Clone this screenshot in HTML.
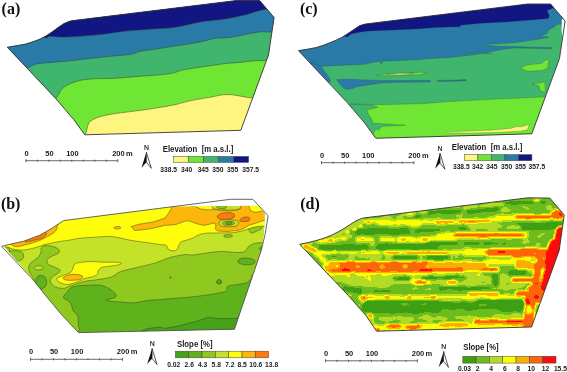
<!DOCTYPE html>
<html><head><meta charset="utf-8"><title>Elevation and slope maps</title>
<style>html,body{margin:0;padding:0;background:#fff;}svg{display:block;}</style></head>
<body>
<svg width="567" height="372" viewBox="0 0 567 372">
<rect width="567" height="372" fill="#fff"/>
<g transform="translate(0,0)">
<clipPath id="clipA"><path d="M7.3,47.2 L16,45.8 L25,44.2 L33,41.8 L40,39.1 L46,36 L52,32 L58,27.6 L64,23.6 L69.4,21.3 L73,20.6 L236.7,0.5 L259.6,0.5 L274.1,17.5 L268.5,55 L240.8,130.3 L84.8,134.8 L73.7,119.5 L55.7,98.5Z"/></clipPath>
<g clip-path="url(#clipA)">
<path d="M7.3,47.2 L16,45.8 L25,44.2 L33,41.8 L40,39.1 L46,36 L52,32 L58,27.6 L64,23.6 L69.4,21.3 L73,20.6 L236.7,0.5 L259.6,0.5 L274.1,17.5 L268.5,55 L240.8,130.3 L84.8,134.8 L73.7,119.5 L55.7,98.5Z" fill="#fdf580"/>
<path d="M80,140C80.9,139 84,136.8 85.5,134C87,131.2 87.3,125.9 88.7,123.4C90.1,120.9 91.8,120.2 94,119C96.2,117.8 98.9,117.1 101.6,116.3C104.3,115.5 106.1,115.1 110,114.4C113.9,113.7 118.3,113.2 125,112.3C131.7,111.4 141.7,110.3 150,109C158.3,107.7 168.3,106.1 175,104.7C181.7,103.3 184.2,102 190,100.8C195.8,99.6 203.7,98.3 210,97.3C216.3,96.2 221,94.4 228,94.5C235,94.6 244.2,97.2 252,98C259.8,98.8 271.2,98.8 275,99L600,99 L600,-20 L-50,-20 L-50,140Z" fill="#6fe633"/>
<path d="M45,100C46.8,99.7 53,100.1 55.7,98.4C58.4,96.7 59.3,92 61.3,89.7C63.3,87.5 65.2,86.2 67.6,84.9C70,83.6 72.9,82.6 75.6,81.7C78.2,80.8 80.9,80.2 83.5,79.8C86.1,79.3 88.8,79.2 91.4,79C94.1,78.8 96.3,78.7 99.4,78.6C102.5,78.5 106.6,78.6 110,78.5C113.4,78.4 114.8,78.3 120,77.9C125.2,77.5 134.3,76.7 141,76.2C147.7,75.7 154.7,75.3 160,74.8C165.3,74.3 169.1,73.8 173,73C176.9,72.2 178.2,70.9 183.5,69.8C188.8,68.7 197.6,67.6 204.7,66.6C211.8,65.5 219.9,64.2 225.8,63.5C231.7,62.8 236,62.8 240,62.4C244,62 246,61.5 250,61.2C254,60.9 258.2,60.6 264,60.4C269.8,60.2 281.5,60.1 285,60L600,60 L600,-20 L-50,-20 L-50,100Z" fill="#3fb56e"/>
<path d="M15,70C17.1,69.6 24.1,68.8 27.6,67.8C31.1,66.8 31.9,64.9 35.9,64C39.9,63.1 46.4,62.9 51.7,62.4C57,61.9 62.3,61.6 67.6,61.1C72.9,60.6 78.2,59.8 83.5,59.2C88.8,58.6 95,58.1 99.4,57.6C103.8,57.1 104.9,56.8 110,56.3C115.1,55.8 125,55.2 130,54.4C135,53.6 136.7,52.1 140,51.4C143.3,50.7 144.2,50.9 150,50C155.8,49.1 166.7,47.4 175,46.1C183.3,44.8 193.3,43.3 200,42C206.7,40.7 210,39.1 215,38.4C220,37.6 224.2,38.3 230,37.5C235.8,36.7 245,34.5 250,33.6C255,32.7 256.5,32.2 260,31.9C263.5,31.6 266,32.1 271,32C276,31.9 286.8,31.2 290,31L600,31 L600,-20 L-50,-20 L-50,70Z" fill="#2a7aa8"/>
<path d="M20,34C24,34.6 39,37.2 44,37.6C49,38 46.8,36.3 50,36.2C53.2,36.1 58,37 63,37C68,37 73.8,36.6 80,36.2C86.2,35.8 93.3,35.2 100,34.5C106.7,33.8 114.2,32.4 120,31.7C125.8,31 130,30.7 135,30.3C140,29.9 143.3,29.7 150,29.2C156.7,28.7 166.7,28.5 175,27.3C183.3,26.1 191.7,23.4 200,22C208.3,20.6 218.3,20 225,19C231.7,18 235.8,16.9 240,16C244.2,15.1 247.5,14.2 250,13.5C252.5,12.8 252.4,12.5 255,11.8C257.6,11.1 260.3,10.2 265.3,9.2C270.3,8.2 281.7,6.5 285,6L600,6 L600,-20 L-50,-20 L-50,34Z" fill="#121682"/>
<path d="M80,140C80.9,139 84,136.8 85.5,134C87,131.2 87.3,125.9 88.7,123.4C90.1,120.9 91.8,120.2 94,119C96.2,117.8 98.9,117.1 101.6,116.3C104.3,115.5 106.1,115.1 110,114.4C113.9,113.7 118.3,113.2 125,112.3C131.7,111.4 141.7,110.3 150,109C158.3,107.7 168.3,106.1 175,104.7C181.7,103.3 184.2,102 190,100.8C195.8,99.6 203.7,98.3 210,97.3C216.3,96.2 221,94.4 228,94.5C235,94.6 244.2,97.2 252,98C259.8,98.8 271.2,98.8 275,99" fill="none" stroke="#3a3a2a" stroke-width="0.6" stroke-opacity="0.8"/>
<path d="M45,100C46.8,99.7 53,100.1 55.7,98.4C58.4,96.7 59.3,92 61.3,89.7C63.3,87.5 65.2,86.2 67.6,84.9C70,83.6 72.9,82.6 75.6,81.7C78.2,80.8 80.9,80.2 83.5,79.8C86.1,79.3 88.8,79.2 91.4,79C94.1,78.8 96.3,78.7 99.4,78.6C102.5,78.5 106.6,78.6 110,78.5C113.4,78.4 114.8,78.3 120,77.9C125.2,77.5 134.3,76.7 141,76.2C147.7,75.7 154.7,75.3 160,74.8C165.3,74.3 169.1,73.8 173,73C176.9,72.2 178.2,70.9 183.5,69.8C188.8,68.7 197.6,67.6 204.7,66.6C211.8,65.5 219.9,64.2 225.8,63.5C231.7,62.8 236,62.8 240,62.4C244,62 246,61.5 250,61.2C254,60.9 258.2,60.6 264,60.4C269.8,60.2 281.5,60.1 285,60" fill="none" stroke="#3a3a2a" stroke-width="0.6" stroke-opacity="0.8"/>
<path d="M15,70C17.1,69.6 24.1,68.8 27.6,67.8C31.1,66.8 31.9,64.9 35.9,64C39.9,63.1 46.4,62.9 51.7,62.4C57,61.9 62.3,61.6 67.6,61.1C72.9,60.6 78.2,59.8 83.5,59.2C88.8,58.6 95,58.1 99.4,57.6C103.8,57.1 104.9,56.8 110,56.3C115.1,55.8 125,55.2 130,54.4C135,53.6 136.7,52.1 140,51.4C143.3,50.7 144.2,50.9 150,50C155.8,49.1 166.7,47.4 175,46.1C183.3,44.8 193.3,43.3 200,42C206.7,40.7 210,39.1 215,38.4C220,37.6 224.2,38.3 230,37.5C235.8,36.7 245,34.5 250,33.6C255,32.7 256.5,32.2 260,31.9C263.5,31.6 266,32.1 271,32C276,31.9 286.8,31.2 290,31" fill="none" stroke="#3a3a2a" stroke-width="0.6" stroke-opacity="0.8"/>
<path d="M20,34C24,34.6 39,37.2 44,37.6C49,38 46.8,36.3 50,36.2C53.2,36.1 58,37 63,37C68,37 73.8,36.6 80,36.2C86.2,35.8 93.3,35.2 100,34.5C106.7,33.8 114.2,32.4 120,31.7C125.8,31 130,30.7 135,30.3C140,29.9 143.3,29.7 150,29.2C156.7,28.7 166.7,28.5 175,27.3C183.3,26.1 191.7,23.4 200,22C208.3,20.6 218.3,20 225,19C231.7,18 235.8,16.9 240,16C244.2,15.1 247.5,14.2 250,13.5C252.5,12.8 252.4,12.5 255,11.8C257.6,11.1 260.3,10.2 265.3,9.2C270.3,8.2 281.7,6.5 285,6" fill="none" stroke="#3a3a2a" stroke-width="0.6" stroke-opacity="0.8"/>
</g>
<path d="M7.3,47.2 L16,45.8 L25,44.2 L33,41.8 L40,39.1 L46,36 L52,32 L58,27.6 L64,23.6 L69.4,21.3 L73,20.6 L236.7,0.5 L259.6,0.5 L274.1,17.5 L268.5,55 L240.8,130.3 L84.8,134.8 L73.7,119.5 L55.7,98.5Z" fill="none" stroke="#333" stroke-width="0.9"/>
</g>
<text x="1.6" y="13.6" font-family="Liberation Serif, Times New Roman, serif" font-weight="bold" font-size="16" fill="#111">(a)</text>
<path d="M25.9,160.7 H117.8" stroke="#444" stroke-width="0.8"/>
<path d="M25.9,159.1 V162.3" stroke="#444" stroke-width="0.8"/>
<path d="M37.4,159.7 V161.7" stroke="#444" stroke-width="0.8"/>
<path d="M48.9,159.7 V161.7" stroke="#444" stroke-width="0.8"/>
<path d="M60.4,159.7 V161.7" stroke="#444" stroke-width="0.8"/>
<path d="M71.8,159.7 V161.7" stroke="#444" stroke-width="0.8"/>
<path d="M83.3,159.7 V161.7" stroke="#444" stroke-width="0.8"/>
<path d="M94.8,159.7 V161.7" stroke="#444" stroke-width="0.8"/>
<path d="M106.3,159.7 V161.7" stroke="#444" stroke-width="0.8"/>
<path d="M117.8,159.1 V162.3" stroke="#444" stroke-width="0.8"/>
<text transform="translate(26.50,155.90) scale(1,1.050)" font-family="Liberation Sans, Arial, sans-serif" font-weight="bold" font-size="7.5" fill="#1a1a1a" text-anchor="middle">0</text>
<text transform="translate(49.48,155.90) scale(1,1.050)" font-family="Liberation Sans, Arial, sans-serif" font-weight="bold" font-size="7.5" fill="#1a1a1a" text-anchor="middle">50</text>
<text transform="translate(72.45,155.90) scale(1,1.050)" font-family="Liberation Sans, Arial, sans-serif" font-weight="bold" font-size="7.5" fill="#1a1a1a" text-anchor="middle">100</text>
<text transform="translate(118.40,155.90) scale(1,1.050)" font-family="Liberation Sans, Arial, sans-serif" font-weight="bold" font-size="7.5" fill="#1a1a1a" text-anchor="middle">200</text>
<text transform="translate(126.00,155.90) scale(1,1.050)" font-family="Liberation Sans, Arial, sans-serif" font-weight="bold" font-size="7.5" fill="#1a1a1a">m</text>
<text x="146.5" y="149.9" font-family="Liberation Sans, Arial, sans-serif" font-size="6.9" text-anchor="middle" fill="#111" stroke="#111" stroke-width="0.15">N</text>
<path d="M146.4,152.3 L141.5,167.8 L146.4,162.2 Z" fill="#111"/>
<path d="M146.4,152.3 L151.3,168.3 L146.4,162.2 Z" fill="#fff" stroke="#111" stroke-width="0.7"/>
<text transform="translate(162.70,151.70) scale(1,1.130)" font-family="Liberation Sans, Arial, sans-serif" font-weight="bold" font-size="7.8" fill="#1a1a1a" xml:space="preserve">Elevation  [m a.s.l.]</text>
<rect x="173.4" y="156.4" width="15" height="6" fill="#fdf580" stroke="#444" stroke-width="0.5"/>
<rect x="188.4" y="156.4" width="15" height="6" fill="#6fe633" stroke="#444" stroke-width="0.5"/>
<rect x="203.5" y="156.4" width="15" height="6" fill="#3fb56e" stroke="#444" stroke-width="0.5"/>
<rect x="218.5" y="156.4" width="15" height="6" fill="#2a7aa8" stroke="#444" stroke-width="0.5"/>
<rect x="233.6" y="156.4" width="15" height="6" fill="#121682" stroke="#444" stroke-width="0.5"/>
<text transform="translate(168.60,171.80) scale(1,1.100)" font-family="Liberation Sans, Arial, sans-serif" font-weight="bold" font-size="6.7" fill="#1a1a1a" text-anchor="middle">338.5</text>
<text transform="translate(186.60,171.80) scale(1,1.100)" font-family="Liberation Sans, Arial, sans-serif" font-weight="bold" font-size="6.7" fill="#1a1a1a" text-anchor="middle">340</text>
<text transform="translate(203.20,171.80) scale(1,1.100)" font-family="Liberation Sans, Arial, sans-serif" font-weight="bold" font-size="6.7" fill="#1a1a1a" text-anchor="middle">345</text>
<text transform="translate(217.80,171.80) scale(1,1.100)" font-family="Liberation Sans, Arial, sans-serif" font-weight="bold" font-size="6.7" fill="#1a1a1a" text-anchor="middle">350</text>
<text transform="translate(232.60,171.80) scale(1,1.100)" font-family="Liberation Sans, Arial, sans-serif" font-weight="bold" font-size="6.7" fill="#1a1a1a" text-anchor="middle">355</text>
<text transform="translate(250.70,171.80) scale(1,1.100)" font-family="Liberation Sans, Arial, sans-serif" font-weight="bold" font-size="6.7" fill="#1a1a1a" text-anchor="middle">357.5</text>
<clipPath id="clipB"><path d="M4,246.3 L9.5,244.4 L23.8,241.2 L39.7,235.3 L52.4,228 L63.5,220.6 L172,206.8 L258.2,205.6 L264.8,213.6 L264.3,233.5 L261.3,250.3 L234.4,329.2 L78.4,332.6 L62.3,315.5 L46.1,296.1 L33.2,280Z"/></clipPath>
<g clip-path="url(#clipB)">
<path d="M4,246.3 L9.5,244.4 L23.8,241.2 L39.7,235.3 L52.4,228 L63.5,220.6 L172,206.8 L258.2,205.6 L264.8,213.6 L264.3,233.5 L261.3,250.3 L234.4,329.2 L78.4,332.6 L62.3,315.5 L46.1,296.1 L33.2,280Z" fill="#c4e227"/>
<path d="M275,242C273,225.8 266.6,242.3 263.2,242.6C259.8,242.8 256.8,242.9 254.4,243.5C252.1,244.1 251.2,244.7 249.1,246.2C247,247.7 246.7,251.4 242,252.3C237.3,253.2 227.1,251.3 220.9,251.5C214.7,251.7 209.7,252.6 205,253.2C200.3,253.8 195.9,254.8 192.6,255C189.3,255.2 188.8,254.2 185,254.6C181.2,255 174.6,256.2 169.7,257.6C164.8,259 160.8,261.3 155.5,262.9C150.2,264.5 143.8,265.8 137.9,267.3C132,268.8 124.7,270.1 120.3,271.7C115.9,273.3 115.7,275.6 111.5,277C107.3,278.4 99.4,279.3 95,280C90.6,280.7 89.2,280.4 85,281.4C80.8,282.4 73.6,284.8 70,286C66.4,287.2 65.8,288.3 63.4,288.4C60.9,288.5 57.4,287.9 55.3,286.8C53.1,285.7 51,283.5 50.5,281.9C50,280.3 51,278.4 52.1,277.1C53.2,275.8 55.5,275 56.9,273.9C58.2,272.8 60.5,271.7 60.2,270.6C59.9,269.5 57.3,268.5 55.3,267.4C53.3,266.3 49.4,265.5 48.1,264.2C46.8,262.9 46.6,260.8 47.3,259.4C48,258 50.4,257.1 52.1,256.1C53.8,255.2 56.5,254.6 57.7,253.7C58.9,252.8 59.8,251.6 59.4,250.5C59,249.4 57.3,248.1 55.3,247.3C53.3,246.5 49.6,245.6 47.3,245.6C45,245.6 42.7,246.1 41.6,247.3C40.5,248.5 41.5,251.2 40.8,252.9C40.1,254.6 39.2,256.1 37.6,257.7C36,259.3 32.6,261 31.1,262.6C29.6,264.2 29,265.8 28.7,267.4C28.4,269 28.8,270.7 29.5,272.3C30.2,273.9 31.6,275.2 32.7,277.1C33.8,279 34.6,281.6 36,283.5C37.4,285.4 39.6,286.5 40.8,288.4C42,290.3 42.1,292.9 43.2,294.8C44.3,296.7 45.3,297.1 47.3,300C49.3,302.9 52.5,308.3 55,312C57.5,315.7 59.5,317.3 62,322C64.5,326.7 34.5,337 70,340C105.5,343 240.8,356.3 275,340C309.2,323.7 277,258.2 275,242Z" fill="#8fc920" stroke="#3a3a20" stroke-width="0.55" stroke-opacity="0.85"/>
<path d="M10,251C11,250.5 14.1,250.6 16,250.8C17.9,251 20.2,251.2 21.5,252C22.8,252.8 23.5,254.2 23.6,255.5C23.7,256.8 23.3,258.6 22,259.5C20.7,260.4 17.8,261.4 16,261.2C14.2,260.9 12.5,259.2 11.5,258C10.5,256.8 10.1,255.2 9.8,254C9.6,252.8 9,251.5 10,251Z" fill="#8fc920" stroke="#3a3a20" stroke-width="0.55" stroke-opacity="0.85"/>
<path d="M4.6,246.5C5.3,246.1 7.2,246 8,246.5C8.8,247 9.5,248.5 9.6,249.5C9.7,250.5 9.1,251.9 8.5,252.3C7.9,252.7 6.5,252.6 5.8,252C5,251.4 4.2,249.9 4,249C3.8,248.1 3.9,246.9 4.6,246.5Z" fill="#8fc920" stroke="#3a3a20" stroke-width="0.55" stroke-opacity="0.85"/>
<path d="M34.4,267.5C34.8,266.9 36.6,265.9 38,265.8C39.4,265.7 41.7,266.2 42.6,266.6C43.5,267 43.8,267.8 43.4,268.3C43,268.8 41.3,269.6 40,269.8C38.7,270 36.4,269.9 35.5,269.5C34.6,269.1 34,268.1 34.4,267.5Z" fill="#c4e227" stroke="#3a3a20" stroke-width="0.55" stroke-opacity="0.85"/>
<path d="M36,281C35.9,279.2 36.7,277.4 37.5,276.5C38.3,275.6 39.8,275.2 41,275.3C42.2,275.4 44.1,276 45,277C45.9,278 46.5,279.9 46.6,281.5C46.7,283.1 46.3,285.4 45.5,286.5C44.7,287.6 43.2,288.3 42,288.4C40.8,288.5 39,288.2 38,287C37,285.8 36.1,282.8 36,281Z" fill="#5eb31c" stroke="#3a3a20" stroke-width="0.55" stroke-opacity="0.85"/>
<path d="M63.5,297.6C63.2,296.1 65.6,294.1 67.1,292.3C68.6,290.6 69.1,288.3 72.3,287.1C75.5,285.9 81.8,285.6 86.5,285.3C91.2,285 96.8,284.7 100.6,285.3C104.4,285.9 106.9,287.3 109.4,288.8C111.9,290.3 114.7,292.6 115.6,294.1C116.5,295.6 116.3,296.6 114.7,297.6C113.1,298.6 106.2,299.7 105.9,300.3C105.6,300.9 110.3,301.2 112.9,301.5C115.5,301.8 118.8,301.8 121.7,302C124.6,302.2 127.5,302.9 130.5,302.9C133.4,302.9 136.5,302.4 139.4,302C142.3,301.6 144.8,300.7 148.2,300.3C151.6,299.9 156.5,299.9 160,299.6C163.5,299.3 164.6,299.1 169.4,298.7C174.2,298.3 182.3,297.8 188.8,297.2C195.3,296.6 202,295.8 208.2,294.8C214.3,293.8 222.5,292.7 225.7,291.3C228.9,289.9 225.7,287.6 227.6,286.5C229.5,285.4 234.1,285.1 237.3,284.5C240.5,283.9 244.6,283.7 247,282.6C249.4,281.5 250.8,279 251.8,277.8C252.8,276.6 249.1,276.5 253,275.5C256.9,274.5 271.3,260.4 275,272C278.7,283.6 307.5,332.8 275,345C242.5,357.2 112.6,347.5 80,345C47.4,342.5 79.8,333.2 79.5,330C79.2,326.8 78.8,328.3 78.5,325.9C78.2,323.4 78.5,317.8 77.6,315.3C76.7,312.8 74.2,312.5 73.2,310.9C72.2,309.3 72.2,307.2 71.5,305.6C70.8,304 70.1,302.5 68.8,301.2C67.5,299.9 63.8,299.1 63.5,297.6Z" fill="#5eb31c" stroke="#3a3a20" stroke-width="0.55" stroke-opacity="0.85"/>
<path d="M237.6,261.2C237.8,260.4 239.4,259.1 241,258.6C242.6,258.1 245,258.1 247,258.2C249,258.3 251.6,258.7 253,259.3C254.4,259.9 255.4,261 255.2,261.8C255,262.6 253.5,263.8 252,264.3C250.5,264.8 248,264.9 246,264.8C244,264.7 241.4,264.2 240,263.6C238.6,263 237.4,262 237.6,261.2Z" fill="#5eb31c" stroke="#3a3a20" stroke-width="0.55" stroke-opacity="0.85"/>
<path d="M216.4,281.8C216.5,281.2 217.3,280.1 218,279.9C218.7,279.6 220.2,279.9 220.8,280.3C221.4,280.7 221.9,281.8 221.8,282.4C221.7,283 220.7,283.9 220,284.1C219.3,284.3 218,284 217.4,283.6C216.8,283.2 216.3,282.4 216.4,281.8Z" fill="#5eb31c" stroke="#3a3a20" stroke-width="0.55" stroke-opacity="0.85"/>
<path d="M217.2,281.2C217.3,280.6 218.2,279.7 218.8,279.6C219.4,279.5 220.3,280.1 220.6,280.6C220.9,281.1 220.8,282.4 220.4,282.8C220,283.2 218.7,283.2 218.2,282.9C217.7,282.6 217.1,281.8 217.2,281.2Z" fill="#5eb31c" stroke="#3a3a20" stroke-width="0.55" stroke-opacity="0.85"/>
<path d="M169.6,277.4C169.6,277.2 170.1,276.7 170.4,276.7C170.7,276.7 171.3,277.1 171.3,277.3C171.3,277.5 170.8,278.1 170.5,278.1C170.2,278.1 169.6,277.6 169.6,277.4Z" fill="#5eb31c" stroke="#3a3a20" stroke-width="0.55" stroke-opacity="0.85"/>
<path d="M259.5,248.5C259.4,247.8 260.9,246.6 261.5,246.5C262.1,246.4 262.9,247.2 263,248C263.1,248.8 262.6,250.9 262,251C261.4,251.1 259.6,249.2 259.5,248.5Z" fill="#5eb31c" stroke="#3a3a20" stroke-width="0.55" stroke-opacity="0.85"/>
<path d="M137.6,334C138.6,332.4 140.6,331.3 142.9,330.3C145.2,329.3 148.8,328.5 151.7,328C154.5,327.5 157.7,327.3 160,327.3C162.3,327.3 162.6,328.4 165.5,328.2C168.4,328 173.3,327.1 177.2,326.3C181.1,325.5 185.2,324.2 188.8,323.3C192.4,322.4 195.3,321.8 198.5,320.8C201.7,319.8 205,317.9 208.2,317.5C211.4,317.1 213.4,318.3 217.9,318.5C222.4,318.7 230.9,318.6 235.4,318.5C239.9,318.4 243.4,314.4 245,318C246.6,321.6 263,336.3 245,340C227,343.7 154.9,341 137,340C119.1,339 136.6,335.6 137.6,334Z" fill="#46a218" stroke="#3a3a20" stroke-width="0.55" stroke-opacity="0.85"/>
<path d="M248.5,226.1C250,225.2 256,224.8 258.3,224.7C260.7,224.6 262.1,224.7 262.6,225.4C263.1,226.1 262.1,228 261.2,228.9C260.2,229.8 258.5,230.3 256.9,231C255.2,231.7 252.6,233.3 251.3,233.2C250,233.1 249.7,231.5 249.2,230.3C248.7,229.1 247,227 248.5,226.1Z" fill="#8fc920" stroke="#3a3a20" stroke-width="0.55" stroke-opacity="0.85"/>
<path d="M223.8,235.8C224.1,235.4 225.7,234.8 227,234.6C228.3,234.4 230.6,234.6 231.5,234.9C232.4,235.2 232.8,235.9 232.4,236.3C232,236.7 230.2,237.2 229,237.3C227.8,237.4 225.9,237.2 225,237C224.1,236.8 223.5,236.2 223.8,235.8Z" fill="#8fc920" stroke="#3a3a20" stroke-width="0.55" stroke-opacity="0.85"/>
<path d="M-10,247.5C-7.4,257 1.9,246.8 5.6,247C9.3,247.2 10.3,248.4 12,248.8C13.7,249.2 14,249.5 16,249.7C18,249.9 21.7,250.1 24,250C26.3,249.9 27.7,249.5 30,249C32.3,248.5 35.5,247.6 38,246.8C40.5,246.1 41.8,245.3 45,244.5C48.2,243.7 52.8,242.8 57,242C61.2,241.2 66.2,240.6 70,240C73.8,239.4 76,238.6 80,238.2C84,237.8 88.5,237.6 93.8,237.3C99,237 105.6,236.1 111.5,236.5C117.4,236.9 123.2,239 129.1,240C135,241 141.7,241.9 146.7,242.6C151.7,243.3 155.9,243.9 159.1,244.4C162.3,244.9 164.6,244.6 166.1,245.3C167.6,246 167,247.9 167.9,248.8C168.8,249.7 169.9,250.4 171.4,250.6C172.9,250.8 175.2,251 176.7,249.7C178.2,248.4 178.9,244.1 180.3,242.6C181.7,241.1 182.9,241.2 185,240.5C187.1,239.8 190.4,239.1 192.6,238.2C194.8,237.3 195.6,236 197.9,235.2C200.2,234.4 202,233.6 206.2,233.2C210.4,232.8 218.4,233 223.1,232.9C227.8,232.8 230.9,232.9 234.4,232.5C237.9,232.1 241.1,231.1 244.2,230.3C247.2,229.5 249.9,228.2 252.7,227.5C255.5,226.8 257.5,226.5 261.2,226.1C264.9,225.7 272.7,231 275,225C277.3,219 322.5,195.8 275,190C227.5,184.2 37.5,180.4 -10,190C-57.5,199.6 -12.6,238 -10,247.5Z" fill="#fefe0c" stroke="#3a3a20" stroke-width="0.55" stroke-opacity="0.85"/>
<path d="M56.9,279.5C56.5,278.7 56.6,278.6 57.7,277.9C58.8,277.2 61.2,276.4 63.4,275.5C65.5,274.6 69,273.5 70.6,272.3C72.2,271.1 72.4,269.6 73.1,268.2C73.8,266.8 73.6,265.1 74.7,264.2C75.8,263.3 77,263.1 79.5,262.6C82,262.2 86.2,261.6 90,261.5C93.8,261.4 98.1,262.1 102.6,262.2C107,262.3 113.6,262 116.7,262.2C119.8,262.4 121.2,262.9 121.2,263.4C121.2,263.9 119.8,264.5 116.7,265.2C113.6,265.9 105.7,266.4 102.6,267.3C99.5,268.2 99.1,269.7 98.2,270.9C97.3,272.1 98.3,273.4 97.3,274.4C96.3,275.4 94,276.4 92,277C90,277.6 87.1,277.6 85,278.3C82.9,279 82.3,280.1 79.5,281.1C76.7,282.1 71.4,284.1 68.2,284.4C65,284.7 62.1,283.5 60.2,282.7C58.3,281.9 57.3,280.3 56.9,279.5Z" fill="#fefe0c" stroke="#3a3a20" stroke-width="0.55" stroke-opacity="0.85"/>
<path d="M63.4,277.5C64.2,276.6 67.6,275.2 70,274.7C72.4,274.2 75.9,274.3 78,274.6C80.1,274.9 82.4,275.7 82.7,276.5C83,277.3 81.8,278.9 80,279.5C78.2,280.1 74.5,280.2 72,280.3C69.5,280.4 66.4,280.3 65,279.8C63.6,279.3 62.6,278.4 63.4,277.5Z" fill="#fdb60c" stroke="#3a3a20" stroke-width="0.55" stroke-opacity="0.85"/>
<path d="M113.8,227.6C114,227.2 115.9,226.6 117,226.5C118.1,226.4 120.1,226.8 120.6,227.2C121.1,227.5 120.8,228.3 120,228.6C119.2,228.9 117,229.1 116,228.9C115,228.7 113.6,228 113.8,227.6Z" fill="#fdb60c" stroke="#3a3a20" stroke-width="0.55" stroke-opacity="0.85"/>
<path d="M8,244C8.5,244.4 9.8,244 11.1,244.4C12.4,244.8 13.2,246.7 15.9,246.7C18.6,246.7 23,245.4 27,244.4C31,243.4 36,241.9 39.7,240.4C43.4,238.9 46.6,237.2 49.2,235.6C51.9,234 54.3,232.3 55.6,230.9C56.9,229.5 57,228.1 57.1,226.9C57.2,225.8 60.5,222.5 56,224C51.5,225.5 38,233 30,236C22,239 11.7,240.7 8,242C4.3,243.3 7.5,243.6 8,244Z" fill="#fdb60c" stroke="#3a3a20" stroke-width="0.55" stroke-opacity="0.85"/>
<path d="M131.1,226.6 L134.7,230.6 L150.5,228.8 L164.7,225.4 L175.8,224.6 L184.4,221.3 L188.7,220.8 L196.2,223.5 L203.3,225.4 L210.4,224 L215,222.8 L216,226 L215.3,228.9 L217.4,231 L227.3,231.5 L238.6,230.3 L244.2,228.2 L248.5,225.4 L255.5,223.3 L262,221 L270,219 L270,212 L262.3,211 L255.9,212.4 L250.5,211 L249,206 L247.5,204.5 L241,204.5 L239,209.5 L230,211 L214.5,209.5 L208,210 L200.5,209 L195.6,206.5 L185,205 L173.1,205 L171.7,208 L168.2,213.8 L164.7,218.2 L154,221.8 L138.2,224.4Z" fill="#fdb60c" stroke="#3a3a20" stroke-width="0.55" stroke-opacity="0.85"/>
<path d="M26,241.8C27.3,241.8 30.7,241 33,240.5C35.3,240 38.1,239.5 40,238.8C41.9,238.1 43.4,237.4 44.5,236.5C45.6,235.6 46.6,234.4 46.5,233.5C46.4,232.6 45.8,231.1 44,231C42.2,230.9 38.7,231.8 36,233C33.3,234.2 29.8,236.7 28,238C26.2,239.3 25.3,240.2 25,240.8C24.7,241.4 24.7,241.9 26,241.8Z" fill="#fd7a10" stroke="#3a3a20" stroke-width="0.55" stroke-opacity="0.85"/>
<path d="M217.2,216.1C217.6,215.2 219.5,214 221.5,213.4C223.5,212.8 226.8,212.5 229,212.7C231.2,212.9 233.7,213.7 234.4,214.5C235.1,215.3 234.7,216.9 233.3,217.7C231.9,218.5 228.1,219.2 225.8,219.4C223.5,219.6 220.7,219.4 219.3,218.8C217.9,218.2 216.8,217 217.2,216.1Z" fill="#fd7a10" stroke="#3a3a20" stroke-width="0.55" stroke-opacity="0.85"/>
<path d="M239.7,219.9C240.2,219.2 242.5,217.6 244,217.2C245.5,216.8 248,216.9 248.9,217.4C249.8,217.9 250,219.7 249.4,220.4C248.8,221.1 246.5,221.4 245.1,221.5C243.7,221.6 241.7,221.5 240.8,221.2C239.9,220.9 239.2,220.6 239.7,219.9Z" fill="#fd7a10" stroke="#3a3a20" stroke-width="0.55" stroke-opacity="0.85"/>
<path d="M218.8,222.8C219,221.8 220.1,220.7 222,220.2C223.9,219.7 227.6,219.5 230,219.6C232.4,219.7 235.1,219.9 236.5,220.5C237.9,221.1 238.7,222.1 238.6,223C238.5,223.9 237.8,225.6 236,226.2C234.2,226.8 230.5,226.8 228,226.8C225.5,226.8 222.5,226.7 221,226C219.5,225.3 218.6,223.8 218.8,222.8Z" fill="#c4e227" stroke="#3a3a20" stroke-width="0.55" stroke-opacity="0.85"/>
<path d="M222.5,223C222.7,222.3 224.4,221.6 226,221.3C227.6,221 230.6,220.9 232,221.2C233.4,221.5 234.6,222.4 234.6,223C234.6,223.6 233.6,224.6 232,225C230.4,225.4 226.6,225.5 225,225.2C223.4,224.9 222.3,223.7 222.5,223Z" fill="#8fc920" stroke="#3a3a20" stroke-width="0.55" stroke-opacity="0.85"/>
<path d="M225.5,223C225.8,222.6 227,222.1 228,222C229,221.9 230.8,222 231.5,222.3C232.2,222.6 232.4,223.2 232,223.6C231.6,224 229.9,224.4 229,224.5C228.1,224.6 226.9,224.4 226.3,224.2C225.7,223.9 225.2,223.4 225.5,223Z" fill="#5eb31c" stroke="#3a3a20" stroke-width="0.55" stroke-opacity="0.85"/>
<path d="M212,205 L241,205 L240.5,208.5 L236,209.8 L226,210 L217,209.6 L212.8,208.5Z" fill="#c4e227" stroke="#3a3a20" stroke-width="0.55" stroke-opacity="0.85"/>
<path d="M217,206.2C218.4,205.9 224.6,205.9 226,206.2C227.4,206.5 226.3,207.8 225.5,208.2C224.7,208.6 222.3,208.5 221,208.5C219.7,208.5 218.2,208.4 217.5,208C216.8,207.6 215.6,206.5 217,206.2Z" fill="#8fc920" stroke="#3a3a20" stroke-width="0.55" stroke-opacity="0.85"/>
</g>
<path d="M1.6,246.3 L9.5,244.4 L23.8,241.2 L39.7,235.3 L52.4,228 L63.5,220.6 L230.4,199.3 L252.9,199.3 L268.1,215.8 L265.3,233.5 L261.3,250.3 L234.4,329.2 L78.4,332.6 L62.3,315.5 L46.1,296.1 L33.2,280Z" fill="none" stroke="#555" stroke-width="0.9"/>
<clipPath id="clipC"><path d="M298.4,50.6 L307,49.3 L316.2,47.5 L323,45.4 L330.3,42.6 L336,40.2 L341.5,37.5 L346.5,34.5 L351.4,31.2 L355.5,28.4 L359.9,25.6 L365.5,24 L527.7,4 L550.6,4 L565.1,21 L559.5,58.5 L531.8,133.8 L375.8,138.3 L364.7,123 L346.7,102Z"/></clipPath>
<g clip-path="url(#clipC)">
<path d="M298.4,50.6 L307,49.3 L316.2,47.5 L323,45.4 L330.3,42.6 L336,40.2 L341.5,37.5 L346.5,34.5 L351.4,31.2 L355.5,28.4 L359.9,25.6 L365.5,24 L527.7,4 L550.6,4 L565.1,21 L559.5,58.5 L531.8,133.8 L375.8,138.3 L364.7,123 L346.7,102Z" fill="#3fb56e"/>
<path d="M300,60 L318,66.5 L321.4,66.4 L336.9,65.5 L357,64.7 L366.5,64.1 L371.8,62.4 L380,61.5 L381.3,64.2 L382.5,61.3 L398.2,60.6 L418.5,59.5 L435,58.3 L450,57.5 L476,54.6 L492,51.4 L502.6,49.3 L515,47.9 L530,48.3 L551,48.7 L551.5,47.6 L530,47.2 L515,46.5 L497.3,46.3 L484.6,44.9 L484.6,44.3 L497.3,43.7 L515,42.6 L536.7,39.4 L549,37.3 L540,35.7 L547,33.6 L549,29.4 L553.2,27.4 L557.3,24.3 L600,24 L600,-20 L300,-20Z" fill="#2a7aa8" stroke="#2d3a2a" stroke-width="0.4" stroke-opacity="0.6"/>
<path d="M330,35.5 L345.5,36.3 L347,37.2 L349,35.2 L352,33.8 L359.2,32.3 L369.1,31.1 L393.8,29.9 L420,28.8 L435,27.6 L450,27 L460,26.8 L460.5,25.3 L481,23.3 L511.9,21.6 L536.7,19.6 L548,18.5 L549.5,16 L547,10.5 L552,8.6 L560,5 L600,5 L600,-20 L330,-20Z" fill="#121682" stroke="#2d3a2a" stroke-width="0.4" stroke-opacity="0.6"/>
<path d="M310,62 L321.4,66.4 L323.4,69.8 L326.1,73.1 L328.8,77.2 L330.8,81.5 L326,82 L312,66Z" fill="#2a7aa8" stroke="#2d3a2a" stroke-width="0.4" stroke-opacity="0.6"/>
<path d="M336.9,79.5 L350.3,79.2 L363.8,79.9 L380,80.4 L400,80.6 L430,80.4 L430.5,81.9 L400,82.2 L380,83 L366.5,85.2 L357,86.6 L353,88.6 L346.3,89.3 L342.3,86.6 L338.2,81.9Z" fill="#2a7aa8" stroke="#2d3a2a" stroke-width="0.4" stroke-opacity="0.6"/>
<path d="M437,80.2 L450,80.4 L466,79.6 L466,80.7 L450,81.4 L437,81.3Z" fill="#2a7aa8" stroke="#2d3a2a" stroke-width="0.4" stroke-opacity="0.6"/>
<path d="M465.6,52.3 L480,52.8 L492,53.2 L492,54 L480,53.7 L466,52.9Z" fill="#3fb56e" stroke="#2d3a2a" stroke-width="0.4" stroke-opacity="0.6"/>
<path d="M350,104 L371.7,105.1 L378.1,107.2 L366.5,110 L368.6,114.6 L372.8,121 L371.7,123.1 L405.6,125.2 L382.3,126.3 L378.1,130.5 L376,128.4 L370,140 L560,140 L560,96.5 L540.6,97.1 L522.5,97.9 L486.3,99.6 L450,101.4 L424.7,103.6 L382.3,104.7Z" fill="#6fe633" stroke="#2d3a2a" stroke-width="0.4" stroke-opacity="0.6"/>
<path d="M445,131.8 L470,131 L490,130.2 L510.4,128.4 L516,126.8 L522.5,126.6 L529.3,124.3 L527.4,129.8 L520.1,131.2 L500,132.3 L470,133 L446,132.8Z" fill="#fdf580" stroke="#2d3a2a" stroke-width="0.4" stroke-opacity="0.6"/>
<path d="M520.1,67.4 L527.4,65 L541.9,63.3 L546.7,59.2 L548.6,60.9 L547.9,68.1 L541.9,70.5 L527.4,71.3 L522.5,68.9Z" fill="#6fe633" stroke="#2d3a2a" stroke-width="0.4" stroke-opacity="0.6"/>
<path d="M544.5,73 L546.5,73 L546.8,75.2 L544.3,75.4Z" fill="#6fe633" stroke="#2d3a2a" stroke-width="0.4" stroke-opacity="0.6"/>
<path d="M532.2,84.3 L541.9,82.6 L544.8,81.4 L545.5,92.3 L540.6,91.1 L539,85.8Z" fill="#6fe633" stroke="#2d3a2a" stroke-width="0.4" stroke-opacity="0.6"/>
<path d="M376.5,75 L388,73.4 L410,72.9 L420,72.2 L427,72.8 L421,74.6 L400,75.6 L385,75.8Z" fill="#6fe633" stroke="#2d3a2a" stroke-width="0.4" stroke-opacity="0.6"/>
<path d="M386,74.4 L400,73.6 L414,73.3 L400,74.9Z" fill="#fdf580" stroke="#2d3a2a" stroke-width="0.4" stroke-opacity="0.6"/>
<path d="M561.8,19.3 L566,19 L566,45 L563.2,45 L561.6,30Z" fill="#fff"/>
</g>
<path d="M298.4,50.6 L307,49.3 L316.2,47.5 L323,45.4 L330.3,42.6 L336,40.2 L341.5,37.5 L346.5,34.5 L351.4,31.2 L355.5,28.4 L359.9,25.6 L365.5,24 L527.7,4 L550.6,4 L565.1,21 L559.5,58.5 L531.8,133.8 L375.8,138.3 L364.7,123 L346.7,102Z" fill="none" stroke="#333" stroke-width="0.9"/>
<filter id="postD" x="280" y="185" width="300" height="160" filterUnits="userSpaceOnUse" color-interpolation-filters="sRGB"><feTurbulence type="fractalNoise" baseFrequency="0.09 0.22" numOctaves="1" seed="7" result="n"/><feColorMatrix in="n" type="matrix" values="1 0 0 0 0  1 0 0 0 0  1 0 0 0 0  0 0 0 0 1" result="ng"/><feComposite in="SourceGraphic" in2="ng" operator="arithmetic" k1="0" k2="1" k3="0.300" k4="-0.150"/><feGaussianBlur stdDeviation="1.1"/><feComponentTransfer><feFuncR type="discrete" tableValues="0.247 0.427 0.702 0.996 0.992 0.992 0.988"/><feFuncG type="discrete" tableValues="0.624 0.741 0.855 0.996 0.682 0.400 0.047"/><feFuncB type="discrete" tableValues="0.078 0.114 0.149 0.008 0.008 0.039 0.047"/></feComponentTransfer></filter>
<clipPath id="clipD"><path d="M299.7,244.3 L308,242.6 L316,240.6 L324,238.2 L331,235.4 L338,232 L344,228.6 L350,224.6 L356,220.9 L361.5,218.4 L365,217.8 L528,197.8 L549.8,198.1 L564.2,214.9 L559.2,250.5 L531.5,327 L376.5,331.2 L366,315.5 L348,295.2Z"/></clipPath>
<g clip-path="url(#clipD)"><g filter="url(#postD)">
<rect x="280" y="185" width="300" height="160" fill="#404040"/>
<path d="M300,246 L320,241 L340,233 L358,223 L400,216 L465,208 L530,200.5 L548,200.5" fill="none" stroke="#5c5c5c" stroke-width="3.2" stroke-linecap="round" stroke-linejoin="round" stroke-dasharray="12 5"/>
<path d="M335,282 L520,282" fill="none" stroke="#545454" stroke-width="12" stroke-linecap="round" stroke-linejoin="round" stroke-dasharray="14 6"/>
<path d="M465,243.5 L505,243.5" fill="none" stroke="#0f0f0f" stroke-width="3.5" stroke-linecap="round" stroke-linejoin="round" stroke-dasharray="14 5"/>
<path d="M330,257 L470,257" fill="none" stroke="#575757" stroke-width="3" stroke-linecap="round" stroke-linejoin="round" stroke-dasharray="9 5"/>
<path d="M430,212 L481,211 L505,208" fill="none" stroke="#0a0a0a" stroke-width="4" stroke-linecap="round" stroke-linejoin="round" stroke-dasharray="30 8"/>
<path d="M506,203 L545,202" fill="none" stroke="#0d0d0d" stroke-width="3.5" stroke-linecap="round" stroke-linejoin="round"/>
<path d="M405,217.5 L430,215" fill="none" stroke="#1a1a1a" stroke-width="3" stroke-linecap="round" stroke-linejoin="round"/>
<path d="M380,222.5 L392,222.5" fill="none" stroke="#808080" stroke-width="5" stroke-linecap="round" stroke-linejoin="round"/>
<path d="M398,222.8 L419,222.8" fill="none" stroke="#858585" stroke-width="6" stroke-linecap="round" stroke-linejoin="round"/>
<path d="M424,221.8 L470,221.5 L515,218" fill="none" stroke="#7a7a7a" stroke-width="4.5" stroke-linecap="round" stroke-linejoin="round" stroke-dasharray="16 5"/>
<path d="M437,222.2 L453,222.2" fill="none" stroke="#cccccc" stroke-width="2.4" stroke-linecap="round" stroke-linejoin="round"/>
<path d="M459,221.4 L489,221" fill="none" stroke="#c7c7c7" stroke-width="2.6" stroke-linecap="round" stroke-linejoin="round"/>
<path d="M514,217.2 L549,217.2" fill="none" stroke="#cccccc" stroke-width="4.5" stroke-linecap="round" stroke-linejoin="round"/>
<path d="M497,217.5 L514,217.5" fill="none" stroke="#808080" stroke-width="5" stroke-linecap="round" stroke-linejoin="round"/>
<path d="M360,221.8 L377,221.8" fill="none" stroke="#7a7a7a" stroke-width="3.5" stroke-linecap="round" stroke-linejoin="round"/>
<path d="M357,231.5 L407,231.5" fill="none" stroke="#080808" stroke-width="6" stroke-linecap="round" stroke-linejoin="round"/>
<path d="M415,230.5 L440,230" fill="none" stroke="#141414" stroke-width="3.5" stroke-linecap="round" stroke-linejoin="round"/>
<path d="M450,229 L470,228.5" fill="none" stroke="#1a1a1a" stroke-width="3" stroke-linecap="round" stroke-linejoin="round"/>
<path d="M519,226.5 L560,226" fill="none" stroke="#080808" stroke-width="7" stroke-linecap="round" stroke-linejoin="round"/>
<path d="M470,227 L519,227" fill="none" stroke="#525252" stroke-width="5" stroke-linecap="round" stroke-linejoin="round" stroke-dasharray="8 4"/>
<path d="M358,239.5 L372,239.5" fill="none" stroke="#808080" stroke-width="4.5" stroke-linecap="round" stroke-linejoin="round"/>
<path d="M382,239.5 L393,239.5" fill="none" stroke="#808080" stroke-width="4.5" stroke-linecap="round" stroke-linejoin="round"/>
<path d="M399,239.8 L414,239.8" fill="none" stroke="#858585" stroke-width="5" stroke-linecap="round" stroke-linejoin="round"/>
<path d="M419,239.5 L455,238" fill="none" stroke="#858585" stroke-width="5" stroke-linecap="round" stroke-linejoin="round"/>
<path d="M440,236 L470,235.5 L525,235" fill="none" stroke="#8c8c8c" stroke-width="6" stroke-linecap="round" stroke-linejoin="round"/>
<path d="M456,235 L522,235" fill="none" stroke="#d1d1d1" stroke-width="3.5" stroke-linecap="round" stroke-linejoin="round"/>
<path d="M320,241 L345,238" fill="none" stroke="#808080" stroke-width="4" stroke-linecap="round" stroke-linejoin="round"/>
<path d="M322,247.5 L366,247.5" fill="none" stroke="#080808" stroke-width="6" stroke-linecap="round" stroke-linejoin="round"/>
<path d="M379,247 L435,246.5" fill="none" stroke="#080808" stroke-width="6" stroke-linecap="round" stroke-linejoin="round"/>
<path d="M430,243.5 L456,243.5" fill="none" stroke="#0d0d0d" stroke-width="4" stroke-linecap="round" stroke-linejoin="round"/>
<path d="M318,252.6 L465,252.6" fill="none" stroke="#858585" stroke-width="3.5" stroke-linecap="round" stroke-linejoin="round" stroke-dasharray="18 4"/>
<path d="M405.6,252.8 L448.5,252.8" fill="none" stroke="#c7c7c7" stroke-width="2.2" stroke-linecap="round" stroke-linejoin="round"/>
<path d="M385,252.6 L399,252.6" fill="none" stroke="#c2c2c2" stroke-width="2.2" stroke-linecap="round" stroke-linejoin="round"/>
<path d="M466,252.3 L489,252.3" fill="none" stroke="#858585" stroke-width="6.5" stroke-linecap="round" stroke-linejoin="round"/>
<path d="M490,252.4 L511,252.4" fill="none" stroke="#cccccc" stroke-width="7.5" stroke-linecap="round" stroke-linejoin="round"/>
<path d="M494,252 L506,252" fill="none" stroke="#dbdbdb" stroke-width="2.5" stroke-linecap="round" stroke-linejoin="round"/>
<path d="M514,253 L543,253" fill="none" stroke="#bdbdbd" stroke-width="10" stroke-linecap="round" stroke-linejoin="round"/>
<path d="M522,250 L536,250" fill="none" stroke="#d6d6d6" stroke-width="3" stroke-linecap="round" stroke-linejoin="round"/>
<path d="M394.5,257.5 L416.7,257.5" fill="none" stroke="#080808" stroke-width="3.5" stroke-linecap="round" stroke-linejoin="round"/>
<path d="M427.9,257.7 L448.5,257.7" fill="none" stroke="#080808" stroke-width="3.5" stroke-linecap="round" stroke-linejoin="round"/>
<path d="M328,256 L348,256" fill="none" stroke="#1a1a1a" stroke-width="3" stroke-linecap="round" stroke-linejoin="round"/>
<path d="M330,267 L431,267" fill="none" stroke="#c9c9c9" stroke-width="11.5" stroke-linecap="round" stroke-linejoin="round"/>
<path d="M326,266 L336,266" fill="none" stroke="#999999" stroke-width="6" stroke-linecap="round" stroke-linejoin="round"/>
<path d="M431,266.5 L483,266.5" fill="none" stroke="#a3a3a3" stroke-width="10" stroke-linecap="round" stroke-linejoin="round"/>
<path d="M432,270 L462,270" fill="none" stroke="#d1d1d1" stroke-width="3.5" stroke-linecap="round" stroke-linejoin="round"/>
<path d="M343,270.2 L351,270.2" fill="none" stroke="#f7f7f7" stroke-width="2.6" stroke-linecap="round" stroke-linejoin="round"/>
<path d="M368,270.2 L374,270.2" fill="none" stroke="#f7f7f7" stroke-width="2.6" stroke-linecap="round" stroke-linejoin="round"/>
<path d="M420,270.5 L431,270.5" fill="none" stroke="#f2f2f2" stroke-width="2.5" stroke-linecap="round" stroke-linejoin="round"/>
<path d="M440,271 L452,271" fill="none" stroke="#ebebeb" stroke-width="2.2" stroke-linecap="round" stroke-linejoin="round"/>
<path d="M487,262 L520,262" fill="none" stroke="#808080" stroke-width="6" stroke-linecap="round" stroke-linejoin="round"/>
<path d="M520,264.5 L542,264.5" fill="none" stroke="#adadad" stroke-width="10" stroke-linecap="round" stroke-linejoin="round"/>
<path d="M481,269.5 L497,269.5" fill="none" stroke="#cccccc" stroke-width="4" stroke-linecap="round" stroke-linejoin="round"/>
<path d="M330,275 L480,274.5" fill="none" stroke="#757575" stroke-width="3.5" stroke-linecap="round" stroke-linejoin="round" stroke-dasharray="20 6"/>
<path d="M394.5,278.5 L410.4,278.5" fill="none" stroke="#0a0a0a" stroke-width="3.5" stroke-linecap="round" stroke-linejoin="round"/>
<path d="M423,277.5 L464.4,277.5" fill="none" stroke="#0f0f0f" stroke-width="3.5" stroke-linecap="round" stroke-linejoin="round"/>
<path d="M511,273 L524,273" fill="none" stroke="#080808" stroke-width="6" stroke-linecap="round" stroke-linejoin="round"/>
<path d="M530,277.5 L530,285" fill="none" stroke="#0d0d0d" stroke-width="5" stroke-linecap="round" stroke-linejoin="round"/>
<path d="M413,281 L428,284" fill="none" stroke="#8c8c8c" stroke-width="6.5" stroke-linecap="round" stroke-linejoin="round"/>
<path d="M417,282.5 L424.7,282.5" fill="none" stroke="#cccccc" stroke-width="3.2" stroke-linecap="round" stroke-linejoin="round"/>
<path d="M448.5,282.3 L455.5,282.3" fill="none" stroke="#c7c7c7" stroke-width="3" stroke-linecap="round" stroke-linejoin="round"/>
<path d="M514,280 L532,280" fill="none" stroke="#cccccc" stroke-width="5" stroke-linecap="round" stroke-linejoin="round"/>
<path d="M495,276.5 L496,284" fill="none" stroke="#0a0a0a" stroke-width="6" stroke-linecap="round" stroke-linejoin="round"/>
<path d="M345,288.5 L360,291" fill="none" stroke="#0a0a0a" stroke-width="6" stroke-linecap="round" stroke-linejoin="round"/>
<path d="M374,291.5 L392,291.5" fill="none" stroke="#141414" stroke-width="3" stroke-linecap="round" stroke-linejoin="round"/>
<path d="M440,288.5 L490,288" fill="none" stroke="#0f0f0f" stroke-width="3.5" stroke-linecap="round" stroke-linejoin="round"/>
<path d="M395,286 L440,286" fill="none" stroke="#2e2e2e" stroke-width="3" stroke-linecap="round" stroke-linejoin="round"/>
<path d="M360,297.8 L520,297.5" fill="none" stroke="#858585" stroke-width="4.5" stroke-linecap="round" stroke-linejoin="round"/>
<path d="M469,293.7 L498,293.7" fill="none" stroke="#cccccc" stroke-width="2.6" stroke-linecap="round" stroke-linejoin="round"/>
<path d="M517.6,293.7 L544,293" fill="none" stroke="#d1d1d1" stroke-width="5" stroke-linecap="round" stroke-linejoin="round"/>
<path d="M362,297 L366,306" fill="none" stroke="#bdbdbd" stroke-width="4" stroke-linecap="round" stroke-linejoin="round"/>
<path d="M367,310 L371,317" fill="none" stroke="#bdbdbd" stroke-width="4" stroke-linecap="round" stroke-linejoin="round"/>
<path d="M368,307 L519,305.5" fill="none" stroke="#050505" stroke-width="12.5" stroke-linecap="round" stroke-linejoin="round"/>
<path d="M401,304.5 L426,304.5" fill="none" stroke="#333333" stroke-width="2.6" stroke-linecap="round" stroke-linejoin="round"/>
<path d="M440,300.5 L475,300.5" fill="none" stroke="#4c4c4c" stroke-width="3.5" stroke-linecap="round" stroke-linejoin="round"/>
<path d="M478,305 L519,305" fill="none" stroke="#2e2e2e" stroke-width="2.5" stroke-linecap="round" stroke-linejoin="round"/>
<path d="M440,310 L500,310.5" fill="none" stroke="#333333" stroke-width="2.5" stroke-linecap="round" stroke-linejoin="round"/>
<path d="M392,314.5 L468,314.5" fill="none" stroke="#3d3d3d" stroke-width="3" stroke-linecap="round" stroke-linejoin="round"/>
<path d="M380,318.5 L440,318.5 L520,316.5" fill="none" stroke="#575757" stroke-width="3.5" stroke-linecap="round" stroke-linejoin="round" stroke-dasharray="14 5"/>
<path d="M372,327.8 L531,325.8" fill="none" stroke="#858585" stroke-width="6.5" stroke-linecap="round" stroke-linejoin="round"/>
<path d="M388,325.8 L400,325.8" fill="none" stroke="#c7c7c7" stroke-width="3.8" stroke-linecap="round" stroke-linejoin="round"/>
<path d="M407,326.8 L419,326.8" fill="none" stroke="#cccccc" stroke-width="4.2" stroke-linecap="round" stroke-linejoin="round"/>
<path d="M475,321.5 L525,321.5" fill="none" stroke="#cccccc" stroke-width="4" stroke-linecap="round" stroke-linejoin="round"/>
<path d="M440,324.5 L467,324" fill="none" stroke="#a8a8a8" stroke-width="3.5" stroke-linecap="round" stroke-linejoin="round"/>
<path d="M508,321 L521,321" fill="none" stroke="#f7f7f7" stroke-width="3" stroke-linecap="round" stroke-linejoin="round"/>
<path d="M532,290 L528,325" fill="none" stroke="#c7c7c7" stroke-width="11" stroke-linecap="round" stroke-linejoin="round"/>
<path d="M525.4,299.5 L531.2,308.3" fill="none" stroke="#f2f2f2" stroke-width="3" stroke-linecap="round" stroke-linejoin="round"/>
<path d="M548,268 L544,285 L539,300" fill="none" stroke="#cccccc" stroke-width="7" stroke-linecap="round" stroke-linejoin="round"/>
<path d="M561,231 L558,246 L553,262 L549,274 L546,286" fill="none" stroke="#f7f7f7" stroke-width="10" stroke-linecap="round" stroke-linejoin="round"/>
<path d="M540,255 L537,275 L535,292" fill="none" stroke="#cccccc" stroke-width="8" stroke-linecap="round" stroke-linejoin="round"/>
<path d="M550,246 L546,262" fill="none" stroke="#f2f2f2" stroke-width="4" stroke-linecap="round" stroke-linejoin="round"/>
<path d="M305,246.5 L315,250.5" fill="none" stroke="#bdbdbd" stroke-width="4" stroke-linecap="round" stroke-linejoin="round"/>
<path d="M316,253 L327,263" fill="none" stroke="#808080" stroke-width="4" stroke-linecap="round" stroke-linejoin="round"/>
<ellipse cx="410.5" cy="214.5" rx="5" ry="2.3" fill="#858585"/>
<ellipse cx="537" cy="200.6" rx="3" ry="1.6" fill="#808080"/>
<ellipse cx="557.5" cy="215" rx="7" ry="5" fill="#cccccc"/>
<ellipse cx="368.5" cy="222.4" rx="2" ry="1.3" fill="#bfbfbf"/>
<ellipse cx="437.6" cy="222.6" rx="1.8" ry="1.2" fill="#c7c7c7"/>
<ellipse cx="347.4" cy="231.7" rx="2" ry="1.5" fill="#bfbfbf"/>
<ellipse cx="354.5" cy="229.3" rx="2" ry="1.5" fill="#b8b8b8"/>
<ellipse cx="360.5" cy="226" rx="2" ry="1.5" fill="#b8b8b8"/>
<ellipse cx="330.7" cy="240.4" rx="2.5" ry="1.5" fill="#bfbfbf"/>
<ellipse cx="362.8" cy="239.6" rx="1.8" ry="1.2" fill="#bfbfbf"/>
<ellipse cx="403.8" cy="240.2" rx="2" ry="1.4" fill="#bfbfbf"/>
<ellipse cx="424.9" cy="239.6" rx="2.2" ry="1.5" fill="#bfbfbf"/>
<ellipse cx="335" cy="252" rx="2" ry="1.2" fill="#bfbfbf"/>
<ellipse cx="363.5" cy="252" rx="2" ry="1.2" fill="#bfbfbf"/>
<ellipse cx="322.2" cy="260" rx="2" ry="1.5" fill="#b2b2b2"/>
<ellipse cx="337.5" cy="266" rx="2.2" ry="1.6" fill="#808080"/>
<ellipse cx="358" cy="266.6" rx="2.4" ry="1.7" fill="#808080"/>
<ellipse cx="382" cy="266.6" rx="2.4" ry="1.7" fill="#808080"/>
<ellipse cx="405" cy="266.5" rx="2.4" ry="1.7" fill="#808080"/>
<ellipse cx="428" cy="266.5" rx="2.2" ry="1.6" fill="#808080"/>
<ellipse cx="367" cy="277.3" rx="2" ry="1.5" fill="#b8b8b8"/>
<ellipse cx="369.8" cy="279" rx="2" ry="1.5" fill="#adadad"/>
<ellipse cx="364.6" cy="298.3" rx="2.5" ry="1.5" fill="#c7c7c7"/>
<ellipse cx="386.8" cy="297.3" rx="2.5" ry="1.5" fill="#c7c7c7"/>
<ellipse cx="409" cy="297.3" rx="2.5" ry="1.5" fill="#c7c7c7"/>
<ellipse cx="433.7" cy="297.3" rx="2.5" ry="1.5" fill="#c7c7c7"/>
<ellipse cx="378" cy="330.4" rx="1.8" ry="1.5" fill="#f2f2f2"/>
<ellipse cx="553.5" cy="252" rx="5.5" ry="13" fill="#f7f7f7"/>
<ellipse cx="534" cy="260.5" rx="4" ry="2" fill="#5c5c5c"/>
<ellipse cx="529" cy="309.5" rx="3" ry="4.5" fill="#737373"/>
<ellipse cx="537" cy="297" rx="2.5" ry="2" fill="#f2f2f2"/>
</g></g>
<path d="M299.7,244.3 L308,242.6 L316,240.6 L324,238.2 L331,235.4 L338,232 L344,228.6 L350,224.6 L356,220.9 L361.5,218.4 L365,217.8 L528,197.8 L549.8,198.1 L564.2,214.9 L559.2,250.5 L531.5,327 L376.5,331.2 L366,315.5 L348,295.2Z" fill="none" stroke="#333" stroke-width="0.9"/>
<text x="0.9" y="209" font-family="Liberation Serif, Times New Roman, serif" font-weight="bold" font-size="16" fill="#111">(b)</text>
<text x="299.9" y="13.5" font-family="Liberation Serif, Times New Roman, serif" font-weight="bold" font-size="16" fill="#111">(c)</text>
<text x="300.2" y="209" font-family="Liberation Serif, Times New Roman, serif" font-weight="bold" font-size="16" fill="#111">(d)</text>
<path d="M30.5,359.3 H122.5" stroke="#444" stroke-width="0.8"/>
<path d="M30.5,357.7 V360.9" stroke="#444" stroke-width="0.8"/>
<path d="M42,358.3 V360.3" stroke="#444" stroke-width="0.8"/>
<path d="M53.5,358.3 V360.3" stroke="#444" stroke-width="0.8"/>
<path d="M65,358.3 V360.3" stroke="#444" stroke-width="0.8"/>
<path d="M76.5,358.3 V360.3" stroke="#444" stroke-width="0.8"/>
<path d="M88,358.3 V360.3" stroke="#444" stroke-width="0.8"/>
<path d="M99.5,358.3 V360.3" stroke="#444" stroke-width="0.8"/>
<path d="M111,358.3 V360.3" stroke="#444" stroke-width="0.8"/>
<path d="M122.5,357.7 V360.9" stroke="#444" stroke-width="0.8"/>
<text transform="translate(31.10,354.20) scale(1,1.050)" font-family="Liberation Sans, Arial, sans-serif" font-weight="bold" font-size="7.5" fill="#1a1a1a" text-anchor="middle">0</text>
<text transform="translate(54.10,354.20) scale(1,1.050)" font-family="Liberation Sans, Arial, sans-serif" font-weight="bold" font-size="7.5" fill="#1a1a1a" text-anchor="middle">50</text>
<text transform="translate(77.10,354.20) scale(1,1.050)" font-family="Liberation Sans, Arial, sans-serif" font-weight="bold" font-size="7.5" fill="#1a1a1a" text-anchor="middle">100</text>
<text transform="translate(123.10,354.20) scale(1,1.050)" font-family="Liberation Sans, Arial, sans-serif" font-weight="bold" font-size="7.5" fill="#1a1a1a" text-anchor="middle">200</text>
<text transform="translate(130.70,354.20) scale(1,1.050)" font-family="Liberation Sans, Arial, sans-serif" font-weight="bold" font-size="7.5" fill="#1a1a1a">m</text>
<text x="152.2" y="346.1" font-family="Liberation Sans, Arial, sans-serif" font-size="6.9" text-anchor="middle" fill="#111" stroke="#111" stroke-width="0.15">N</text>
<path d="M152.1,348.5 L147.2,364 L152.1,358.4 Z" fill="#111"/>
<path d="M152.1,348.5 L157,364.5 L152.1,358.4 Z" fill="#fff" stroke="#111" stroke-width="0.7"/>
<text transform="translate(177.00,346.60) scale(1,1.130)" font-family="Liberation Sans, Arial, sans-serif" font-weight="bold" font-size="7.8" fill="#1a1a1a" xml:space="preserve">Slope [%]</text>
<rect x="175.4" y="351.2" width="13.3" height="6.6" fill="#46a218" stroke="#444" stroke-width="0.5"/>
<rect x="188.7" y="351.2" width="13.3" height="6.6" fill="#5eb31c" stroke="#444" stroke-width="0.5"/>
<rect x="202.1" y="351.2" width="13.3" height="6.6" fill="#8fc920" stroke="#444" stroke-width="0.5"/>
<rect x="215.4" y="351.2" width="13.3" height="6.6" fill="#c4e227" stroke="#444" stroke-width="0.5"/>
<rect x="228.7" y="351.2" width="13.3" height="6.6" fill="#fefe0c" stroke="#444" stroke-width="0.5"/>
<rect x="242" y="351.2" width="13.3" height="6.6" fill="#fdb60c" stroke="#444" stroke-width="0.5"/>
<rect x="255.4" y="351.2" width="13.3" height="6.6" fill="#fd7a10" stroke="#444" stroke-width="0.5"/>
<text transform="translate(173.70,366.80) scale(1,1.100)" font-family="Liberation Sans, Arial, sans-serif" font-weight="bold" font-size="6.7" fill="#1a1a1a" text-anchor="middle">0.02</text>
<text transform="translate(189.20,366.80) scale(1,1.100)" font-family="Liberation Sans, Arial, sans-serif" font-weight="bold" font-size="6.7" fill="#1a1a1a" text-anchor="middle">2.6</text>
<text transform="translate(202.60,366.80) scale(1,1.100)" font-family="Liberation Sans, Arial, sans-serif" font-weight="bold" font-size="6.7" fill="#1a1a1a" text-anchor="middle">4.3</text>
<text transform="translate(216.20,366.80) scale(1,1.100)" font-family="Liberation Sans, Arial, sans-serif" font-weight="bold" font-size="6.7" fill="#1a1a1a" text-anchor="middle">5.8</text>
<text transform="translate(229.80,366.80) scale(1,1.100)" font-family="Liberation Sans, Arial, sans-serif" font-weight="bold" font-size="6.7" fill="#1a1a1a" text-anchor="middle">7.2</text>
<text transform="translate(242.10,366.80) scale(1,1.100)" font-family="Liberation Sans, Arial, sans-serif" font-weight="bold" font-size="6.7" fill="#1a1a1a" text-anchor="middle">8.5</text>
<text transform="translate(255.80,366.80) scale(1,1.100)" font-family="Liberation Sans, Arial, sans-serif" font-weight="bold" font-size="6.7" fill="#1a1a1a" text-anchor="middle">10.6</text>
<text transform="translate(271.60,366.80) scale(1,1.100)" font-family="Liberation Sans, Arial, sans-serif" font-weight="bold" font-size="6.7" fill="#1a1a1a" text-anchor="middle">13.8</text>
<path d="M321.5,162.7 H413.9" stroke="#444" stroke-width="0.8"/>
<path d="M321.5,161.1 V164.3" stroke="#444" stroke-width="0.8"/>
<path d="M333.1,161.7 V163.7" stroke="#444" stroke-width="0.8"/>
<path d="M344.6,161.7 V163.7" stroke="#444" stroke-width="0.8"/>
<path d="M356.1,161.7 V163.7" stroke="#444" stroke-width="0.8"/>
<path d="M367.7,161.7 V163.7" stroke="#444" stroke-width="0.8"/>
<path d="M379.2,161.7 V163.7" stroke="#444" stroke-width="0.8"/>
<path d="M390.8,161.7 V163.7" stroke="#444" stroke-width="0.8"/>
<path d="M402.3,161.7 V163.7" stroke="#444" stroke-width="0.8"/>
<path d="M413.9,161.1 V164.3" stroke="#444" stroke-width="0.8"/>
<text transform="translate(322.10,157.90) scale(1,1.050)" font-family="Liberation Sans, Arial, sans-serif" font-weight="bold" font-size="7.5" fill="#1a1a1a" text-anchor="middle">0</text>
<text transform="translate(345.20,157.90) scale(1,1.050)" font-family="Liberation Sans, Arial, sans-serif" font-weight="bold" font-size="7.5" fill="#1a1a1a" text-anchor="middle">50</text>
<text transform="translate(368.30,157.90) scale(1,1.050)" font-family="Liberation Sans, Arial, sans-serif" font-weight="bold" font-size="7.5" fill="#1a1a1a" text-anchor="middle">100</text>
<text transform="translate(414.50,157.90) scale(1,1.050)" font-family="Liberation Sans, Arial, sans-serif" font-weight="bold" font-size="7.5" fill="#1a1a1a" text-anchor="middle">200</text>
<text transform="translate(422.10,157.90) scale(1,1.050)" font-family="Liberation Sans, Arial, sans-serif" font-weight="bold" font-size="7.5" fill="#1a1a1a">m</text>
<text x="440.1" y="150.8" font-family="Liberation Sans, Arial, sans-serif" font-size="6.9" text-anchor="middle" fill="#111" stroke="#111" stroke-width="0.15">N</text>
<path d="M440,153.2 L435.1,168.7 L440,163.1 Z" fill="#111"/>
<path d="M440,153.2 L444.9,169.2 L440,163.1 Z" fill="#fff" stroke="#111" stroke-width="0.7"/>
<text transform="translate(451.70,149.90) scale(1,1.130)" font-family="Liberation Sans, Arial, sans-serif" font-weight="bold" font-size="7.8" fill="#1a1a1a" xml:space="preserve">Elevation  [m a.s.l.]</text>
<rect x="464.4" y="154.6" width="13.5" height="6.1" fill="#fdf580" stroke="#444" stroke-width="0.5"/>
<rect x="477.9" y="154.6" width="13.5" height="6.1" fill="#6fe633" stroke="#444" stroke-width="0.5"/>
<rect x="491.4" y="154.6" width="13.5" height="6.1" fill="#3fb56e" stroke="#444" stroke-width="0.5"/>
<rect x="504.9" y="154.6" width="13.5" height="6.1" fill="#2a7aa8" stroke="#444" stroke-width="0.5"/>
<rect x="518.4" y="154.6" width="13.5" height="6.1" fill="#121682" stroke="#444" stroke-width="0.5"/>
<text transform="translate(461.30,168.80) scale(1,1.100)" font-family="Liberation Sans, Arial, sans-serif" font-weight="bold" font-size="6.7" fill="#1a1a1a" text-anchor="middle">338.5</text>
<text transform="translate(477.60,168.80) scale(1,1.100)" font-family="Liberation Sans, Arial, sans-serif" font-weight="bold" font-size="6.7" fill="#1a1a1a" text-anchor="middle">342</text>
<text transform="translate(491.90,168.80) scale(1,1.100)" font-family="Liberation Sans, Arial, sans-serif" font-weight="bold" font-size="6.7" fill="#1a1a1a" text-anchor="middle">345</text>
<text transform="translate(506.60,168.80) scale(1,1.100)" font-family="Liberation Sans, Arial, sans-serif" font-weight="bold" font-size="6.7" fill="#1a1a1a" text-anchor="middle">350</text>
<text transform="translate(520.50,168.80) scale(1,1.100)" font-family="Liberation Sans, Arial, sans-serif" font-weight="bold" font-size="6.7" fill="#1a1a1a" text-anchor="middle">355</text>
<text transform="translate(536.80,168.80) scale(1,1.100)" font-family="Liberation Sans, Arial, sans-serif" font-weight="bold" font-size="6.7" fill="#1a1a1a" text-anchor="middle">357.5</text>
<path d="M325.5,360.8 H417.4" stroke="#444" stroke-width="0.8"/>
<path d="M325.5,359.2 V362.4" stroke="#444" stroke-width="0.8"/>
<path d="M337,359.8 V361.8" stroke="#444" stroke-width="0.8"/>
<path d="M348.5,359.8 V361.8" stroke="#444" stroke-width="0.8"/>
<path d="M360,359.8 V361.8" stroke="#444" stroke-width="0.8"/>
<path d="M371.4,359.8 V361.8" stroke="#444" stroke-width="0.8"/>
<path d="M382.9,359.8 V361.8" stroke="#444" stroke-width="0.8"/>
<path d="M394.4,359.8 V361.8" stroke="#444" stroke-width="0.8"/>
<path d="M405.9,359.8 V361.8" stroke="#444" stroke-width="0.8"/>
<path d="M417.4,359.2 V362.4" stroke="#444" stroke-width="0.8"/>
<text transform="translate(326.10,355.90) scale(1,1.050)" font-family="Liberation Sans, Arial, sans-serif" font-weight="bold" font-size="7.5" fill="#1a1a1a" text-anchor="middle">0</text>
<text transform="translate(349.08,355.90) scale(1,1.050)" font-family="Liberation Sans, Arial, sans-serif" font-weight="bold" font-size="7.5" fill="#1a1a1a" text-anchor="middle">50</text>
<text transform="translate(372.05,355.90) scale(1,1.050)" font-family="Liberation Sans, Arial, sans-serif" font-weight="bold" font-size="7.5" fill="#1a1a1a" text-anchor="middle">100</text>
<text transform="translate(418.00,355.90) scale(1,1.050)" font-family="Liberation Sans, Arial, sans-serif" font-weight="bold" font-size="7.5" fill="#1a1a1a" text-anchor="middle">200</text>
<text transform="translate(425.60,355.90) scale(1,1.050)" font-family="Liberation Sans, Arial, sans-serif" font-weight="bold" font-size="7.5" fill="#1a1a1a">m</text>
<text x="443.7" y="349" font-family="Liberation Sans, Arial, sans-serif" font-size="6.9" text-anchor="middle" fill="#111" stroke="#111" stroke-width="0.15">N</text>
<path d="M443.6,351.4 L438.7,366.9 L443.6,361.3 Z" fill="#111"/>
<path d="M443.6,351.4 L448.5,367.4 L443.6,361.3 Z" fill="#fff" stroke="#111" stroke-width="0.7"/>
<text transform="translate(463.20,350.40) scale(1,1.130)" font-family="Liberation Sans, Arial, sans-serif" font-weight="bold" font-size="7.8" fill="#1a1a1a" xml:space="preserve">Slope [%]</text>
<rect x="462.8" y="356.3" width="13.3" height="6.8" fill="#3f9f14" stroke="#444" stroke-width="0.5"/>
<rect x="476.1" y="356.3" width="13.3" height="6.8" fill="#6dbd1d" stroke="#444" stroke-width="0.5"/>
<rect x="489.4" y="356.3" width="13.3" height="6.8" fill="#b3da26" stroke="#444" stroke-width="0.5"/>
<rect x="502.7" y="356.3" width="13.3" height="6.8" fill="#fefe02" stroke="#444" stroke-width="0.5"/>
<rect x="516.1" y="356.3" width="13.3" height="6.8" fill="#fdae02" stroke="#444" stroke-width="0.5"/>
<rect x="529.4" y="356.3" width="13.3" height="6.8" fill="#fd660a" stroke="#444" stroke-width="0.5"/>
<rect x="542.7" y="356.3" width="13.3" height="6.8" fill="#fc0c0c" stroke="#444" stroke-width="0.5"/>
<text transform="translate(464.40,371.10) scale(1,1.100)" font-family="Liberation Sans, Arial, sans-serif" font-weight="bold" font-size="6.7" fill="#1a1a1a" text-anchor="middle">0.03</text>
<text transform="translate(477.70,371.10) scale(1,1.100)" font-family="Liberation Sans, Arial, sans-serif" font-weight="bold" font-size="6.7" fill="#1a1a1a" text-anchor="middle">2</text>
<text transform="translate(491.10,371.10) scale(1,1.100)" font-family="Liberation Sans, Arial, sans-serif" font-weight="bold" font-size="6.7" fill="#1a1a1a" text-anchor="middle">4</text>
<text transform="translate(504.90,371.10) scale(1,1.100)" font-family="Liberation Sans, Arial, sans-serif" font-weight="bold" font-size="6.7" fill="#1a1a1a" text-anchor="middle">6</text>
<text transform="translate(518.00,371.10) scale(1,1.100)" font-family="Liberation Sans, Arial, sans-serif" font-weight="bold" font-size="6.7" fill="#1a1a1a" text-anchor="middle">8</text>
<text transform="translate(531.30,371.10) scale(1,1.100)" font-family="Liberation Sans, Arial, sans-serif" font-weight="bold" font-size="6.7" fill="#1a1a1a" text-anchor="middle">10</text>
<text transform="translate(545.40,371.10) scale(1,1.100)" font-family="Liberation Sans, Arial, sans-serif" font-weight="bold" font-size="6.7" fill="#1a1a1a" text-anchor="middle">12</text>
<text transform="translate(560.40,371.10) scale(1,1.100)" font-family="Liberation Sans, Arial, sans-serif" font-weight="bold" font-size="6.7" fill="#1a1a1a" text-anchor="middle">15.5</text>
</svg>
</body></html>
